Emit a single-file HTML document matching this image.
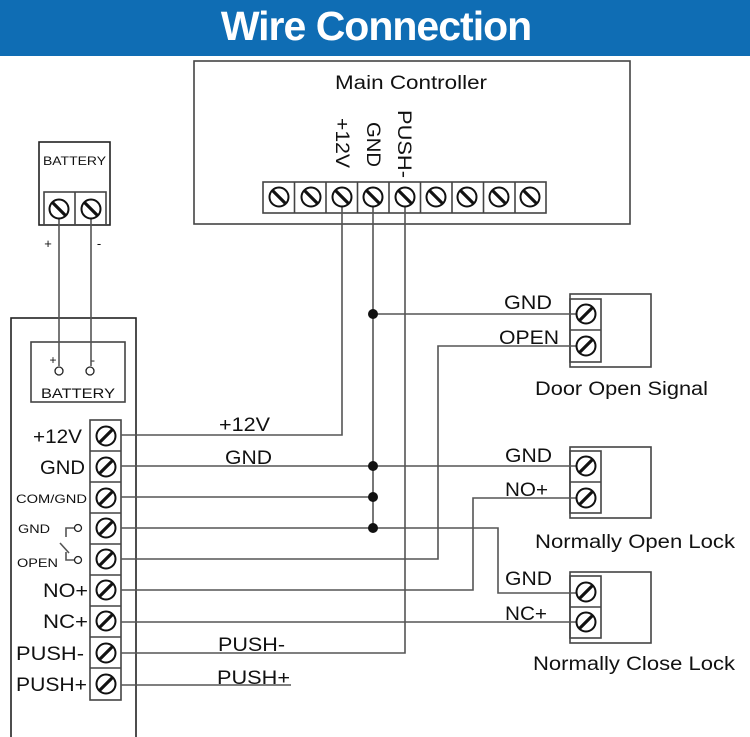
<!DOCTYPE html>
<html><head><meta charset="utf-8"><style>
html,body{margin:0;padding:0;background:#fff;}
svg{display:block;}
text{font-family:"Liberation Sans",Arial,sans-serif;fill:#111;}
</style></head><body>
<svg width="750" height="737" viewBox="0 0 750 737" xmlns="http://www.w3.org/2000/svg">
<defs>
<g id="sb"><circle r="9.5" fill="#fff" stroke="#111" stroke-width="2"/><line x1="-6.5" y1="-6.5" x2="6.5" y2="6.5" stroke="#111" stroke-width="3.2"/></g>
<g id="sf"><circle r="9.5" fill="#fff" stroke="#111" stroke-width="2"/><line x1="6.5" y1="-6.5" x2="-6.5" y2="6.5" stroke="#111" stroke-width="3.2"/></g>
</defs>
<rect x="0" y="0" width="750" height="56" fill="#0f6db4"/>
<text x="376" y="40" text-anchor="middle" font-size="41" font-weight="bold" style="fill:#fff;letter-spacing:-1px">Wire Connection</text>

<g fill="none" stroke="#444" stroke-width="1.6">
<rect x="194" y="61" width="436" height="163"/>
<rect x="263" y="182" width="283" height="31"/>
<line x1="294.5" y1="182" x2="294.5" y2="213"/><line x1="326" y1="182" x2="326" y2="213"/><line x1="357.5" y1="182" x2="357.5" y2="213"/><line x1="389" y1="182" x2="389" y2="213"/><line x1="420.5" y1="182" x2="420.5" y2="213"/><line x1="452" y1="182" x2="452" y2="213"/><line x1="483.5" y1="182" x2="483.5" y2="213"/><line x1="515" y1="182" x2="515" y2="213"/>
<rect x="39" y="142" width="71" height="83" stroke="#222"/>
<rect x="44" y="192" width="62" height="33"/>
<line x1="75" y1="192" x2="75" y2="225"/>
<rect x="11" y="318" width="125" height="430" stroke="#222"/>
<rect x="31" y="342" width="94" height="60"/>
<rect x="90" y="420" width="31" height="280"/>
<line x1="90" y1="451" x2="121" y2="451"/><line x1="90" y1="482" x2="121" y2="482"/><line x1="90" y1="513" x2="121" y2="513"/><line x1="90" y1="544" x2="121" y2="544"/><line x1="90" y1="575" x2="121" y2="575"/><line x1="90" y1="606" x2="121" y2="606"/><line x1="90" y1="637" x2="121" y2="637"/><line x1="90" y1="668" x2="121" y2="668"/>
<rect x="570" y="294" width="81" height="73"/><rect x="570" y="299" width="31" height="63"/><line x1="570" y1="330" x2="601" y2="330"/>
<rect x="570" y="447" width="81" height="71"/><rect x="570" y="451" width="31" height="62"/><line x1="570" y1="482" x2="601" y2="482"/>
<rect x="570" y="572" width="81" height="71"/><rect x="570" y="576" width="31" height="62"/><line x1="570" y1="607" x2="601" y2="607"/>
</g>

<g fill="none" stroke="#555" stroke-width="1.6">
<line x1="59" y1="209" x2="59" y2="366"/>
<line x1="91" y1="209" x2="91" y2="366"/>
<polyline points="342,197 342,435 121,435"/>
<line x1="373" y1="197" x2="373" y2="528"/>
<polyline points="405,197 405,653 121,653"/>
<line x1="373" y1="314" x2="586" y2="314"/>
<line x1="121" y1="466" x2="586" y2="466"/>
<line x1="121" y1="497" x2="373" y2="497"/>
<polyline points="121,528 498,528 498,593 586,593"/>
<polyline points="121,559 438,559 438,346 586,346"/>
<polyline points="121,590 473,590 473,498 586,498"/>
<line x1="121" y1="622" x2="586" y2="622"/>
<line x1="121" y1="685" x2="291" y2="685"/>
<polyline points="74,528 66,528 66,537"/>
<polyline points="74,560 66,560 66,552"/>
<line x1="60" y1="543" x2="69" y2="553"/>
</g>
<g fill="#111">
<circle cx="373" cy="314" r="5"/><circle cx="373" cy="466" r="5"/><circle cx="373" cy="497" r="5"/><circle cx="373" cy="528" r="5"/>
</g>
<g fill="#fff" stroke="#222" stroke-width="1.3">
<circle cx="59" cy="371" r="4"/><circle cx="90" cy="371" r="4"/>
<circle cx="78" cy="528" r="3.5"/><circle cx="78" cy="560" r="3.5"/>
</g>

<use href="#sb" x="279" y="197"/><use href="#sb" x="311" y="197"/><use href="#sb" x="342" y="197"/><use href="#sb" x="373" y="197"/><use href="#sb" x="405" y="197"/><use href="#sb" x="436" y="197"/><use href="#sb" x="467" y="197"/><use href="#sb" x="499" y="197"/><use href="#sb" x="530" y="197"/>
<use href="#sb" x="59" y="209"/><use href="#sb" x="91" y="209"/>
<use href="#sf" x="106" y="436"/><use href="#sf" x="106" y="467"/><use href="#sf" x="106" y="498"/><use href="#sf" x="106" y="528"/><use href="#sf" x="106" y="559"/><use href="#sf" x="106" y="590"/><use href="#sf" x="106" y="621"/><use href="#sf" x="106" y="653"/><use href="#sf" x="106" y="684"/>
<use href="#sf" x="586" y="314"/><use href="#sf" x="586" y="346"/>
<use href="#sf" x="586" y="466"/><use href="#sf" x="586" y="498"/>
<use href="#sf" x="586" y="592"/><use href="#sf" x="586" y="622"/>

<g font-size="19">
<text x="335" y="89" textLength="152" lengthAdjust="spacingAndGlyphs">Main Controller</text>
<text transform="translate(336,118) rotate(90)" textLength="50" lengthAdjust="spacingAndGlyphs">+12V</text>
<text transform="translate(367,122) rotate(90)" textLength="45" lengthAdjust="spacingAndGlyphs">GND</text>
<text transform="translate(398,110) rotate(90)" textLength="68" lengthAdjust="spacingAndGlyphs">PUSH-</text>

<text x="33" y="443" textLength="49" lengthAdjust="spacingAndGlyphs">+12V</text>
<text x="40" y="474" textLength="45" lengthAdjust="spacingAndGlyphs">GND</text>
<text x="43" y="597" textLength="45" lengthAdjust="spacingAndGlyphs">NO+</text>
<text x="43" y="628" textLength="45" lengthAdjust="spacingAndGlyphs">NC+</text>
<text x="16" y="660" textLength="68" lengthAdjust="spacingAndGlyphs">PUSH-</text>
<text x="16" y="691" textLength="71" lengthAdjust="spacingAndGlyphs">PUSH+</text>

<text x="219" y="431" textLength="51" lengthAdjust="spacingAndGlyphs">+12V</text>
<text x="225" y="464" textLength="47" lengthAdjust="spacingAndGlyphs">GND</text>
<text x="218" y="651" textLength="67" lengthAdjust="spacingAndGlyphs">PUSH-</text>
<text x="217" y="684" textLength="73" lengthAdjust="spacingAndGlyphs">PUSH+</text>

<text x="504" y="309" textLength="48" lengthAdjust="spacingAndGlyphs">GND</text>
<text x="499" y="344" textLength="60" lengthAdjust="spacingAndGlyphs">OPEN</text>
<text x="505" y="462" textLength="47" lengthAdjust="spacingAndGlyphs">GND</text>
<text x="505" y="496" textLength="43" lengthAdjust="spacingAndGlyphs">NO+</text>
<text x="505" y="585" textLength="47" lengthAdjust="spacingAndGlyphs">GND</text>
<text x="505" y="620" textLength="42" lengthAdjust="spacingAndGlyphs">NC+</text>
<text x="535" y="395" textLength="173" lengthAdjust="spacingAndGlyphs">Door Open Signal</text>
<text x="535" y="548" textLength="200" lengthAdjust="spacingAndGlyphs">Normally Open Lock</text>
<text x="533" y="670" textLength="202" lengthAdjust="spacingAndGlyphs">Normally Close Lock</text>
</g>
<text x="43" y="165" font-size="12" textLength="63" lengthAdjust="spacingAndGlyphs">BATTERY</text>
<text x="48" y="248" text-anchor="middle" font-size="13">+</text>
<text x="99" y="248" text-anchor="middle" font-size="13">-</text>
<text x="53" y="364" text-anchor="middle" font-size="12">+</text>
<text x="93" y="364" text-anchor="middle" font-size="12">-</text>
<text x="41" y="398" font-size="14" textLength="74" lengthAdjust="spacingAndGlyphs">BATTERY</text>
<text x="16" y="503" font-size="12" textLength="71" lengthAdjust="spacingAndGlyphs">COM/GND</text>
<text x="18" y="533" font-size="12" textLength="32" lengthAdjust="spacingAndGlyphs">GND</text>
<text x="17" y="567" font-size="12" textLength="41" lengthAdjust="spacingAndGlyphs">OPEN</text>
</svg>
</body></html>
